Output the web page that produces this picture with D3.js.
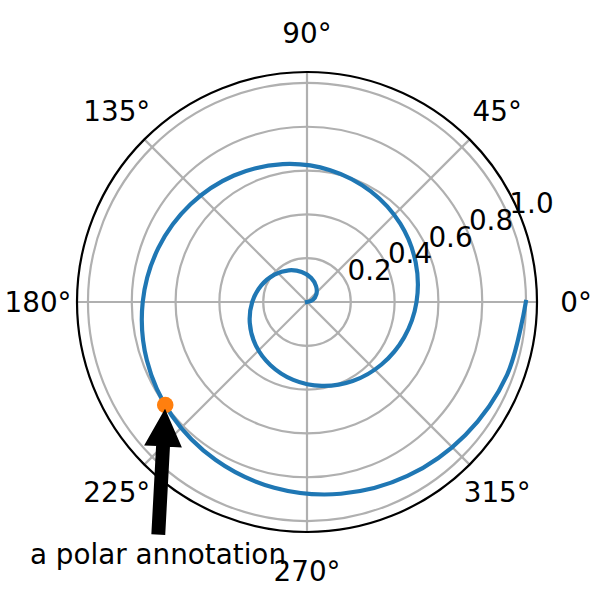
<!DOCTYPE html>
<html>
<head>
<meta charset="utf-8">
<script src="https://cdn.jsdelivr.net/npm/d3@7"></script>
<style>
  body { margin: 0; background: #fff; }
  text { font-family: "DejaVu Sans", sans-serif; }
</style>
</head>
<body>
<div id="chart"></div>
<script>
"use strict";

// spiral: angle in degrees, radius
var spiralDeg = [0, 20, 40, 60, 80, 100, 120, 140, 160, 180, 200, 220, 240, 260, 280, 300, 320, 340,
                 360, 380, 400, 420, 440, 460, 480, 500, 520, 540, 560, 580, 600, 620, 640, 660, 680, 700, 720];
var spiralR = [0, .028, .056, .083, .111, .139, .167, .194, .222, .25, .278, .306, .333, .361, .389, .417, .444, .472,
               .5, .528, .556, .583, .611, .639, .667, .694, .722, .75, .778, .806, .833, .861, .889, .917, .944, .972, .999];

// annotated point
var pointDeg = 216, pointR = 0.8;
var annotationText = "a polar annotation";

var rTicks = [0.2, 0.4, 0.6, 0.8, 1.0];
var thetaTicks = [0, 45, 90, 135, 180, 225, 270, 315];
var rMax = 1.05;

var W = 600, H = 600, cx = 307, cy = 302, R = 230;

var svg = d3.select("#chart").append("svg")
  .attr("width", W).attr("height", H);

var rScale = d3.scaleLinear().domain([0, rMax]).range([0, R]);
// matplotlib angle (deg, ccw from east) -> d3 radial angle (rad, cw from north)
var aScale = d3.scaleLinear().domain([0, 360]).range([Math.PI / 2, Math.PI / 2 - 2 * Math.PI]);

function xy(deg, r) {
  var a = deg * Math.PI / 180;
  return [cx + rScale(r) * Math.cos(a), cy - rScale(r) * Math.sin(a)];
}

var g = svg.append("g").attr("transform", "translate(" + cx + "," + cy + ")");

// grid
g.selectAll(".rgrid").data(rTicks).enter().append("circle")
  .attr("r", function (d) { return rScale(d); })
  .attr("fill", "none").attr("stroke", "#b0b0b0").attr("stroke-width", 2.2);

g.selectAll(".tgrid").data(thetaTicks).enter().append("line")
  .attr("x1", 0).attr("y1", 0)
  .attr("x2", function (d) { return R * Math.cos(d * Math.PI / 180); })
  .attr("y2", function (d) { return -R * Math.sin(d * Math.PI / 180); })
  .attr("stroke", "#b0b0b0").attr("stroke-width", 2.2);

// spine
g.append("circle").attr("r", R)
  .attr("fill", "none").attr("stroke", "#000").attr("stroke-width", 2.2);

// spiral line
var line = d3.lineRadial()
  .angle(function (d) { return aScale(d[0]); })
  .radius(function (d) { return rScale(d[1]); })
  .curve(d3.curveCatmullRom);

g.append("path")
  .datum(d3.zip(spiralDeg, spiralR))
  .attr("d", line)
  .attr("fill", "none").attr("stroke", "#1f77b4").attr("stroke-width", 4.2)
  .attr("stroke-linecap", "square");

// point
var p = xy(pointDeg, pointR);
svg.append("circle").attr("cx", p[0]).attr("cy", p[1]).attr("r", 8.3)
  .attr("fill", "#ff7f0e");

// theta labels
svg.selectAll(".tlab").data(thetaTicks).enter().append("text")
  .attr("x", function (d) { return cx + 269 * Math.cos(d * Math.PI / 180); })
  .attr("y", function (d) { return cy - 269 * Math.sin(d * Math.PI / 180); })
  .attr("text-anchor", "middle").attr("dominant-baseline", "central")
  .attr("font-size", 27.8)
  .text(function (d) { return d + "°"; });

// r labels along 22.5°
svg.selectAll(".rlab").data(rTicks).enter().append("text")
  .attr("x", function (d) { return xy(22.5, d)[0]; })
  .attr("y", function (d) { return xy(22.5, d)[1] - 5; })
  .attr("font-size", 27.8)
  .text(function (d) { return d.toFixed(1); });

// annotation text, lower-left at figure fraction (0.05, 0.05)
var tx = 0.05 * W, ty = H - 0.05 * H;
var txt = svg.append("text").attr("x", tx).attr("y", ty - 6.5)
  .attr("font-size", 27.8).text(annotationText);
var bb = txt.node().getBBox();

// arrow from top-centre of text box to the point, shrunk 5% on both ends
var sx = bb.x + bb.width / 2, sy = ty - 30;
var dx = p[0] - sx, dy = p[1] - sy, len = Math.hypot(dx, dy);
var ux = dx / len, uy = dy / len;
var t0 = [sx + ux * len * 0.05, sy + uy * len * 0.05];
var t1 = [p[0] - ux * len * 0.05, p[1] - uy * len * 0.05];
var hw = 11.1 / 2, hh = 33.3 / 2, hl = 33.3;
var nx = -uy, ny = ux;
var bx = t1[0] - ux * hl, by = t1[1] - uy * hl;
var pts = [
  [t0[0] + nx * hw, t0[1] + ny * hw],
  [bx + nx * hw, by + ny * hw],
  [bx + nx * hh, by + ny * hh],
  t1,
  [bx - nx * hh, by - ny * hh],
  [bx - nx * hw, by - ny * hw],
  [t0[0] - nx * hw, t0[1] - ny * hw]
];
svg.append("path")
  .attr("d", "M" + pts.map(function (q) { return q.join(","); }).join("L") + "Z")
  .attr("fill", "#000").attr("stroke", "#000").attr("stroke-width", 2.8)
  .attr("stroke-linejoin", "miter");

txt.raise();
</script>
</body>
</html>
